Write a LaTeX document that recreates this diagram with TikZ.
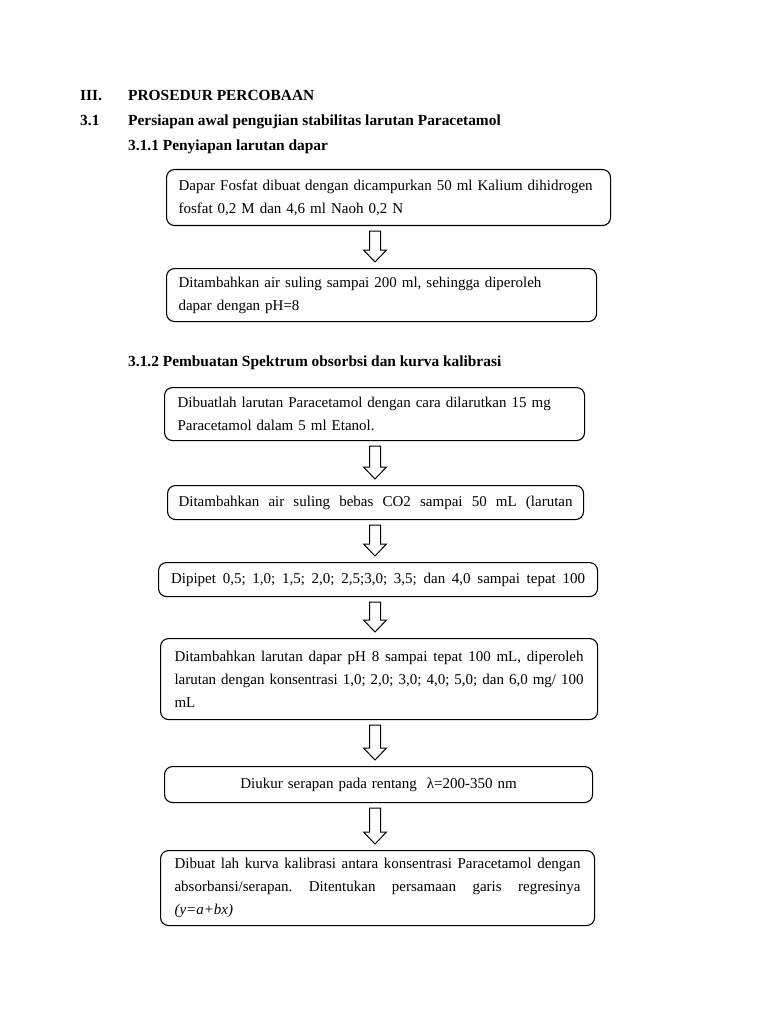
\documentclass[tikz,border=0pt]{standalone}
\usepackage{fontspec}
\setmainfont{Liberation Serif}
\usepackage{tikz}
\usetikzlibrary{positioning, calc}
\frenchspacing
\tikzstyle{heading} = [anchor=base west, inner sep=0pt, font=\fontsize{15.4}{23}\selectfont\bfseries]
\tikzstyle{stepbox} = [rectangle, rounded corners=8pt, draw=black, line width=1.1pt, anchor=north west, inner xsep=12pt, inner ysep=0pt, align=left, font=\fontsize{15}{23}\selectfont]
\tikzstyle{hollow} = [draw=black, line width=1pt, to path={let \p1=(\tikztostart), \p2=(\tikztotarget) in (\x1-5.5pt,\y1-5pt) -- (\x1+5.5pt,\y1-5pt) -- (\x1+5.5pt,\y2+18pt) -- (\x1+11.5pt,\y2+18pt) -- (\x1,\y2+6pt) -- (\x1-11.5pt,\y2+18pt) -- (\x1-5.5pt,\y2+18pt) -- cycle}]

\begin{document}
\begin{tikzpicture}[x=1pt, y=-1pt]
        \useasboundingbox (0,0) rectangle (768,1024);
        \coordinate (spine) at (375,0);

        \node (bab) [heading] at (80,101) {III.};
        \node (prosedur) [heading] at (128,101) {PROSEDUR PERCOBAAN};
        \node (sub) [heading] at (80,126) {3.1};
        \node (persiapan) [heading] at (128,126) {Persiapan awal pengujian stabilitas larutan Paracetamol};
        \node (penyiapan) [heading] at (128,151) {3.1.1 Penyiapan larutan dapar};
        \node (pembuatan) [heading] at (128,366) {3.1.2 Pembuatan Spektrum obsorbsi dan kurva kalibrasi};

        \node (dapar) [stepbox, text width=420pt, minimum height=56pt] at (166,169) {\mbox{Dapar Fosfat dibuat dengan dicampurkan 50 ml Kalium dihidrogen}\\ fosfat 0,2 M dan 4,6 ml Naoh 0,2 N};
        \node (suling) [stepbox, text width=406pt, minimum height=53pt] at (166,268) {Ditambahkan air suling sampai 200 ml, sehingga diperoleh\\ dapar dengan pH=8};
        \node (larutan) [stepbox, text width=394pt, minimum height=53pt, inner xsep=13pt] at (164,387) {Dibuatlah larutan Paracetamol dengan cara dilarutkan 15 mg\\ Paracetamol dalam 5 ml Etanol.};
        \node (bebas) [stepbox, text width=394pt, minimum height=34pt, inner xsep=11pt, align=justify] at (167,485) {\raisebox{2pt}{\makebox[394pt][s]{Ditambahkan air suling bebas CO2 sampai 50 mL (larutan}}};
        \node (pipet) [stepbox, text width=414pt, minimum height=34pt, inner xsep=12.5pt, align=justify] at (158,562) {\raisebox{1pt}{\makebox[414pt][s]{Dipipet 0,5; 1,0; 1,5; 2,0; 2,5;3,0; 3,5; dan 4,0 sampai tepat 100}}};
        \node (konsentrasi) [stepbox, text width=409pt, minimum height=81pt, inner xsep=14pt, align=justify] at (160,638) {Ditambahkan larutan dapar pH 8 sampai tepat 100 mL, diperoleh\linebreak larutan dengan konsentrasi 1,0; 2,0; 3,0; 4,0; 5,0; dan 6,0 mg/ 100\linebreak mL};
        \node (serapan) [stepbox, text width=404pt, minimum height=36pt, align=center] at (164,766) {Diukur serapan pada rentang\ \ λ=200-350 nm};
        \node (kurva) [stepbox, text width=406pt, minimum height=75pt, inner xsep=14pt, align=justify] at (160,850) {Dibuat lah kurva kalibrasi antara konsentrasi Paracetamol dengan\linebreak absorbansi/serapan. Ditentukan persamaan garis regresinya\linebreak \textit{(y=a+bx)}};

        \draw [hollow] (dapar.south -| spine) to (suling.north -| spine);
        \draw [hollow] (larutan.south -| spine) to (bebas.north -| spine);
        \draw [hollow] (bebas.south -| spine) to (pipet.north -| spine);
        \draw [hollow] (pipet.south -| spine) to (konsentrasi.north -| spine);
        \draw [hollow] (konsentrasi.south -| spine) to (serapan.north -| spine);
        \draw [hollow] (serapan.south -| spine) to (kurva.north -| spine);
\end{tikzpicture}
\end{document}
